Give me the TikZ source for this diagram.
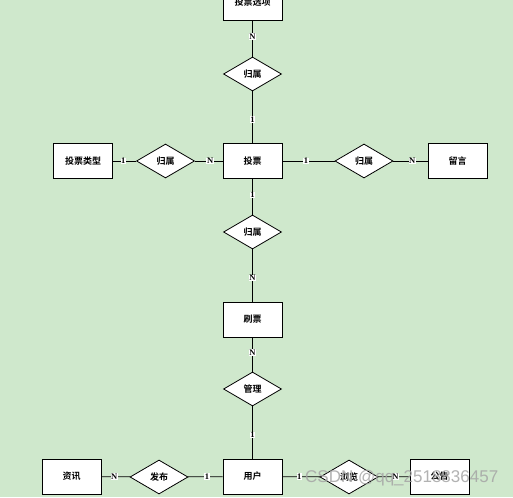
\documentclass[tikz,border=0pt]{standalone}
\usepackage{fontspec}
\setmainfont{Liberation Serif}
\newfontfamily\cjk{Noto Sans CJK SC}[BoldFont={Noto Sans CJK SC Bold}]
\newfontfamily\wmfont{Liberation Sans}
\usetikzlibrary{shapes.geometric}
\definecolor{bggreen}{RGB}{207,232,204}
\definecolor{wmgray}{RGB}{165,165,165}
\tikzset{
  ent/.style={draw=black, line width=0.9pt, fill=white, minimum width=59pt, minimum height=35pt, inner sep=0pt, font=\cjk\bfseries\fontsize{9}{9}\selectfont},
  rel/.style={draw=black, line width=0.8pt, fill=white, diamond, minimum width=58pt, minimum height=34pt, aspect=1.7, inner sep=0pt, font=\cjk\bfseries\fontsize{9}{9}\selectfont},
  card/.style={fill=white, inner sep=0.6pt, font=\bfseries\fontsize{8.5}{8.5}\selectfont},
  conn/.style={draw=black, line width=0.8pt},
}
\begin{document}
\begin{tikzpicture}[x=1pt,y=-1pt]
\fill[bggreen] (0,0) rectangle (513,497);
\useasboundingbox (0,0) rectangle (513,497);
% entities
\node[ent] (xx) at (252.5,2.5) {投票选项};
\node[ent] (tp) at (252.5,161) {投票};
\node[ent] (lx) at (83,161) {投票类型};
\node[ent] (ly) at (457.5,161) {留言};
\node[ent] (sp) at (252.5,319.5) {刷票};
\node[ent] (yh) at (252.5,476.5) {用户};
\node[ent] (zx) at (71.5,476.5) {资讯};
\node[ent] (gg) at (439.5,476.5) {公告};
% relations
\node[rel] (r1) at (252.5,74) {归属};
\node[rel] (r2) at (165.5,161) {归属};
\node[rel] (r3) at (364,161) {归属};
\node[rel] (r4) at (252.5,232) {归属};
\node[rel] (r5) at (252.5,389) {管理};
\node[rel] (r6) at (159,477) {发布};
\node[rel] (r7) at (349,477) {浏览};
% connectors
\draw[conn] (xx) -- node[card, pos=0.45] {N} (r1);
\draw[conn] (r1) -- node[card, pos=0.55] {1} (tp);
\draw[conn] (lx) -- node[card, pos=0.45] {1} (r2);
\draw[conn] (r2) -- node[card, pos=0.55] {N} (tp);
\draw[conn] (tp) -- node[card, pos=0.45] {1} (r3);
\draw[conn] (r3) -- node[card, pos=0.55] {N} (ly);
\draw[conn] (tp) -- node[card, pos=0.45] {1} (r4);
\draw[conn] (r4) -- node[card, pos=0.55] {N} (sp);
\draw[conn] (sp) -- node[card, pos=0.45] {N} (r5);
\draw[conn] (r5) -- node[card, pos=0.55] {1} (yh);
\draw[conn] (zx) -- node[card, pos=0.45] {N} (r6);
\draw[conn] (r6) -- node[card, pos=0.55] {1} (yh);
\draw[conn] (yh) -- node[card, pos=0.45] {1} (r7);
\draw[conn] (r7) -- node[card, pos=0.55] {N} (gg);
% watermark
\node[wmgray, opacity=0.85, font=\wmfont\fontsize{17}{17}\selectfont, inner sep=0pt, anchor=west] (wm) at (305,478) {CSDN @qq\_2518836457};
\end{tikzpicture}
\end{document}
